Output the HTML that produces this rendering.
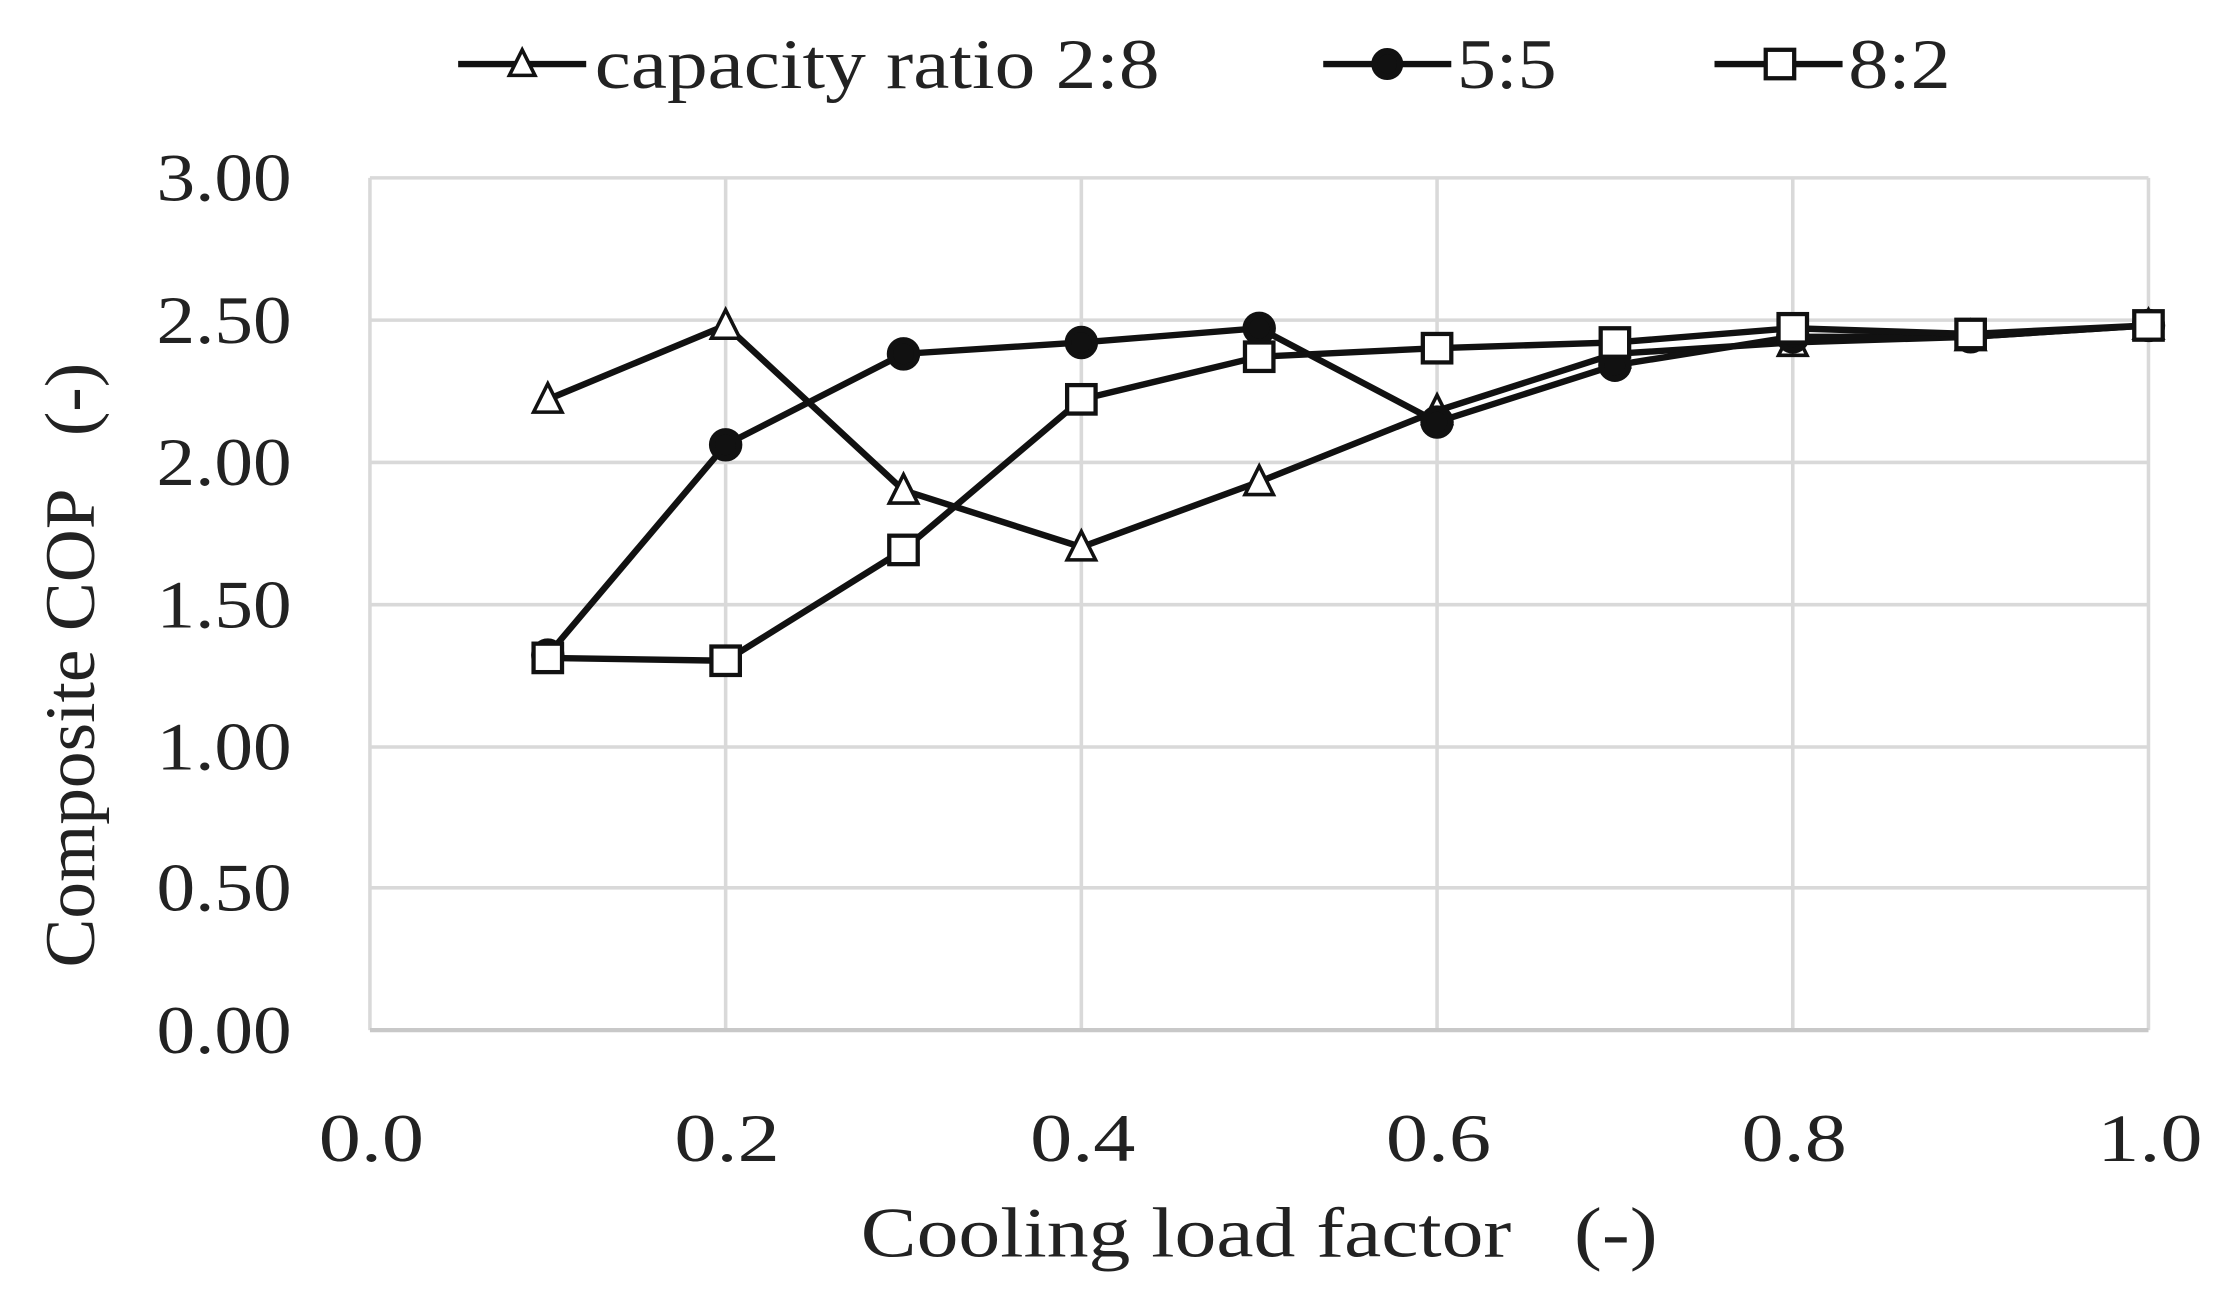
<!DOCTYPE html>
<html><head><meta charset="utf-8"><style>
html,body{margin:0;padding:0;background:#fff;}
svg{display:block;}
text{font-family:"Liberation Serif",serif;fill:#222;}
</style></head><body>
<svg width="2231" height="1304" viewBox="0 0 1568 916.5" preserveAspectRatio="none" xmlns="http://www.w3.org/2000/svg">
<g stroke="#d9d9d9" stroke-width="2.5" fill="none">
<line x1="260" y1="125" x2="1510" y2="125"/>
<line x1="260" y1="225" x2="1510" y2="225"/>
<line x1="260" y1="325" x2="1510" y2="325"/>
<line x1="260" y1="425" x2="1510" y2="425"/>
<line x1="260" y1="525" x2="1510" y2="525"/>
<line x1="260" y1="624" x2="1510" y2="624"/>
<line x1="260" y1="125" x2="260" y2="724"/>
<line x1="510" y1="125" x2="510" y2="724"/>
<line x1="760" y1="125" x2="760" y2="724"/>
<line x1="1010" y1="125" x2="1010" y2="724"/>
<line x1="1260" y1="125" x2="1260" y2="724"/>
<line x1="1510" y1="125" x2="1510" y2="724"/>
</g>
<line x1="260" y1="724" x2="1510" y2="724" stroke="#c8c8c8" stroke-width="3"/>
<g font-size="48">
<text x="110" y="141" textLength="95" lengthAdjust="spacingAndGlyphs">3.00</text>
<text x="110" y="241" textLength="95" lengthAdjust="spacingAndGlyphs">2.50</text>
<text x="110" y="341" textLength="95" lengthAdjust="spacingAndGlyphs">2.00</text>
<text x="110" y="441" textLength="95" lengthAdjust="spacingAndGlyphs">1.50</text>
<text x="110" y="541" textLength="95" lengthAdjust="spacingAndGlyphs">1.00</text>
<text x="110" y="640" textLength="95" lengthAdjust="spacingAndGlyphs">0.50</text>
<text x="110" y="740" textLength="95" lengthAdjust="spacingAndGlyphs">0.00</text>
</g>
<g font-size="48">
<text x="224" y="816" textLength="74" lengthAdjust="spacingAndGlyphs">0.0</text>
<text x="474" y="816" textLength="74" lengthAdjust="spacingAndGlyphs">0.2</text>
<text x="724" y="816" textLength="74" lengthAdjust="spacingAndGlyphs">0.4</text>
<text x="974" y="816" textLength="74" lengthAdjust="spacingAndGlyphs">0.6</text>
<text x="1224" y="816" textLength="74" lengthAdjust="spacingAndGlyphs">0.8</text>
<text x="1474" y="816" textLength="74" lengthAdjust="spacingAndGlyphs">1.0</text>
</g>
<text x="605" y="883" font-size="50" textLength="560" lengthAdjust="spacingAndGlyphs" xml:space="preserve">Cooling load factor   (-)</text>
<text transform="translate(66,680) rotate(-90)" font-size="50" textLength="425" lengthAdjust="spacingAndGlyphs" xml:space="preserve">Composite COP   (-)</text>
<g id="series" stroke="#111" stroke-width="4.5" fill="none"></g>
<g stroke="#111" stroke-width="4.5">
<line x1="322" y1="45" x2="412" y2="45"/>
<polygon points="367,35 376,53 358,53" fill="#fff" stroke-width="2.5"/>
<line x1="930" y1="45" x2="1020" y2="45"/>
<circle cx="975" cy="45" r="9" fill="#111"/>
<line x1="1205" y1="45" x2="1295" y2="45"/>
<rect x="1241" y="35" width="20" height="20" fill="#fff" stroke-width="3"/>
</g>
<g font-size="50">
<text x="418" y="62" textLength="397" lengthAdjust="spacingAndGlyphs">capacity ratio 2:8</text>
<text x="1024" y="62" textLength="70" lengthAdjust="spacingAndGlyphs">5:5</text>
<text x="1299" y="62" textLength="72" lengthAdjust="spacingAndGlyphs">8:2</text>
</g>
</svg>
<script>
var X=function(v){return 260+1250*v},Y=function(v){return 724-199.7*v};
var s=[[2.22,2.48,1.90,1.70,1.93,2.18,2.38,2.42,2.44,2.48],[1.32,2.06,2.38,2.42,2.47,2.14,2.34,2.44,2.44,2.48],[1.31,1.30,1.69,2.22,2.37,2.40,2.42,2.47,2.45,2.48]];
var g=document.getElementById('series'),h='';
s.forEach(function(d,k){var p=d.map(function(v,i){return X(0.1*(i+1)).toFixed(1)+','+Y(v).toFixed(1)}).join(' ');h+='<polyline points="'+p+'"/>';});
s.forEach(function(d,k){d.forEach(function(v,i){var x=X(0.1*(i+1)),y=Y(v);
if(k==0)h+='<polygon points="'+x+','+(y-11)+' '+(x+10)+','+(y+9)+' '+(x-10)+','+(y+9)+'" fill="#fff" stroke-width="2.5"/>';
if(k==1)h+='<circle cx="'+x+'" cy="'+y+'" r="9.5" fill="#111"/>';
if(k==2)h+='<rect x="'+(x-10)+'" y="'+(y-10)+'" width="20" height="20" fill="#fff" stroke-width="3"/>';});});
g.innerHTML=h;
</script>
</body></html>
